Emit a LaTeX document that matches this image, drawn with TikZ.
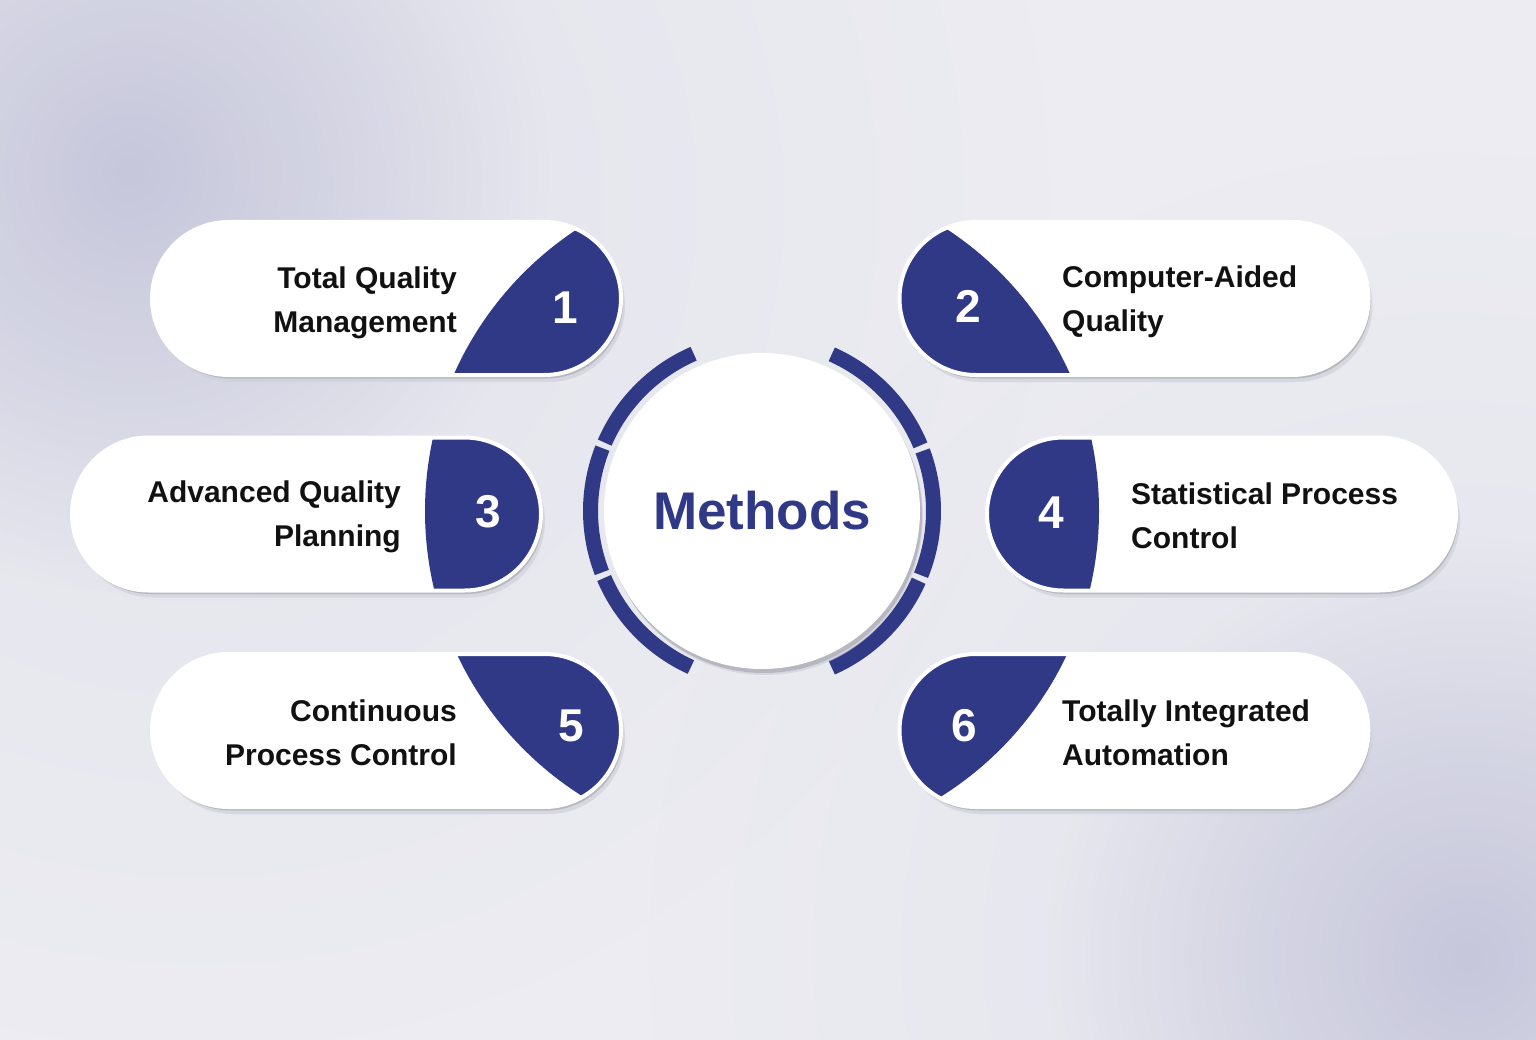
\documentclass[tikz,border=0pt]{standalone}
\usepackage{fontspec}
\setmainfont{Liberation Sans}
\usetikzlibrary{shapes.misc,shadows,fadings}
\tikzfading[name=softblob, inner color=transparent!0, outer color=transparent!100]
\definecolor{mblue}{HTML}{2F3986}
\definecolor{bg}{HTML}{ECECF2}
\definecolor{blob}{HTML}{C6C7DB}
\definecolor{blobtwo}{HTML}{D9DAE6}
\definecolor{shadeA}{HTML}{B6B7C0}
\definecolor{shadeB}{HTML}{CFD0D9}
\definecolor{txt}{HTML}{111111}
\begin{document}
\begin{tikzpicture}[x=1pt,y=-1pt,
  pillbox/.style={rounded rectangle, fill=white, draw=white, line width=4pt, inner sep=0pt,
    minimum height=153pt, minimum width=469pt,
    general shadow={shadow xshift=4pt, shadow yshift=-7pt, fill=shadeB, opacity=0.7},
    drop shadow={shadow xshift=2pt, shadow yshift=-3.5pt, fill=shadeA, opacity=1},
    path picture={\fill[mblue] (cc) circle (337pt);}},
  lbl/.style={font=\fontsize{30}{44}\selectfont\bfseries, text=txt, inner sep=0pt},
  num/.style={font=\fontsize{46}{46}\selectfont\bfseries, text=white, inner sep=0pt},
  ringseg/.style={draw=mblue, line width=15pt},
]
\useasboundingbox (0,0) rectangle (1536,1040);
% background
\begin{scope}
\clip (0,0) rectangle (1536,1040);
\fill[bg] (0,0) rectangle (1536,1040);
\fill[blobtwo, path fading=softblob, opacity=0.5] (200,200) circle (850pt);
\fill[blobtwo, path fading=softblob, opacity=0.5] (1450,950) circle (800pt);
\fill[blob, path fading=softblob] (130,172) circle (420pt);
\fill[blob, path fading=softblob] (1468,957) circle (420pt);
\end{scope}

\coordinate (cc) at (762,511);

% pills
\node[pillbox] (p1) at (386.5,298.5) {};
\node[pillbox] (p2) at (1134,298.5) {};
\node[pillbox] (p3) at (306.5,514) {};
\node[pillbox] (p4) at (1221.5,514) {};
\node[pillbox] (p5) at (386.5,730.5) {};
\node[pillbox] (p6) at (1134,730.5) {};

% ring segments
\begin{scope}[shift={(cc)}, x=1pt, y=1pt]
\draw[ringseg] (113.5:171.5) arc[start angle=113.5, end angle=156.5, radius=171.5];
\draw[ringseg] (158.5:171.5) arc[start angle=158.5, end angle=201, radius=171.5];
\draw[ringseg] (203:171.5) arc[start angle=203, end angle=245.5, radius=171.5];
\draw[ringseg] (22.5:171.5) arc[start angle=22.5, end angle=66, radius=171.5];
\draw[ringseg] (-22:171.5) arc[start angle=-22, end angle=20.5, radius=171.5];
\draw[ringseg] (-66:171.5) arc[start angle=-66, end angle=-24, radius=171.5];
\end{scope}

% centre
\node[circle, fill=white, minimum size=316pt, inner sep=0pt,
  general shadow={shadow xshift=3pt, shadow yshift=-6pt, fill=shadeB, opacity=0.7},
  drop shadow={shadow xshift=2pt, shadow yshift=-4pt, fill=shadeA, opacity=1},
  font=\fontsize{53}{53}\selectfont\bfseries, text=mblue] (m) at (cc) {Methods};

% numbers
\node[num] (n1) at (565,308) {1};
\node[num] (n2) at (968,306) {2};
\node[num] (n3) at (488,512) {3};
\node[num] (n4) at (1051,513) {4};
\node[num] (n5) at (571,726) {5};
\node[num] (n6) at (964,726) {6};

% labels
\node[lbl, anchor=east, align=right] (t1) at (457,303) {Total Quality\\Management};
\node[lbl, anchor=west, align=left] (t2) at (1062,302) {Computer-Aided\\Quality};
\node[lbl, anchor=east, align=right] (t3) at (401,517) {Advanced Quality\\Planning};
\node[lbl, anchor=west, align=left] (t4) at (1131,516) {Statistical Process\\Control};
\node[lbl, anchor=east, align=right] (t5) at (457,733) {Continuous\\Process Control};
\node[lbl, anchor=west, align=left] (t6) at (1062,733) {Totally Integrated\\Automation};
\end{tikzpicture}
\end{document}
